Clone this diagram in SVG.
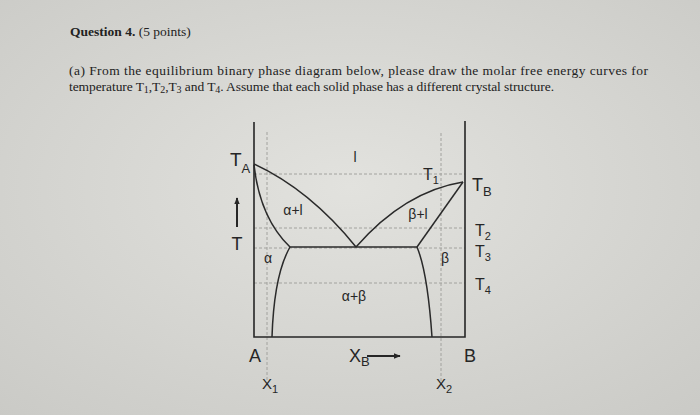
<svg xmlns="http://www.w3.org/2000/svg" width="700" height="415" viewBox="0 0 700 415">
<defs>
<radialGradient id="paper" cx="0.5" cy="0.45" r="0.75">
<stop offset="0" stop-color="#e2e2de"/>
<stop offset="1" stop-color="#cacac6"/>
</radialGradient>
<marker id="arr" viewBox="0 0 10 10" refX="9" refY="5" markerWidth="7" markerHeight="7" orient="auto" markerUnits="userSpaceOnUse">
<path d="M0,1 L10,5 L0,9 Z" fill="#262626"/>
</marker>
</defs>
<style>
.q{font-family:"Liberation Serif","Times New Roman",serif;font-size:13.5px;fill:#222}
.lb{font-family:"Liberation Sans",Arial,sans-serif;fill:#262626}
.ax{stroke:#262626;stroke-width:1.6;fill:none}
.cv{stroke:#2a2a2a;stroke-width:1.5;fill:none}
.ar{stroke:#262626;stroke-width:2;fill:none}
.dash{stroke:#a2a29e;stroke-width:1;stroke-dasharray:3 2;fill:none}
</style>
<rect width="700" height="415" fill="url(#paper)"/>
<g id="question">
<text class="q" x="70" y="36"><tspan font-weight="bold">Question 4.</tspan> (5 points)</text>
<text class="q" x="69" y="75" textLength="579" lengthAdjust="spacing">(a) From the equilibrium binary phase diagram below, please draw the molar free energy curves for</text>
<text class="q" x="69" y="91" textLength="485" lengthAdjust="spacing">temperature T<tspan font-size="10" dy="2">1</tspan><tspan dy="-2">,T</tspan><tspan font-size="10" dy="2">2</tspan><tspan dy="-2">,T</tspan><tspan font-size="10" dy="2">3</tspan><tspan dy="-2"> and T</tspan><tspan font-size="10" dy="2">4</tspan><tspan dy="-2">. Assume that each solid phase has a different crystal structure.</tspan></text>
</g>
<g id="guides">
<line class="dash" x1="254" y1="174" x2="465" y2="174"/>
<line class="dash" x1="254" y1="228" x2="465" y2="228"/>
<line class="dash" x1="254" y1="248" x2="465" y2="248"/>
<line class="dash" x1="254" y1="283" x2="465" y2="283"/>
<line class="dash" x1="267" y1="132" x2="267" y2="384"/>
<line class="dash" x1="441" y1="133" x2="441" y2="384"/>
</g>
<g id="frame">
<path class="ax" d="M254,122 L254,337 L465,337 L465,121"/>
</g>
<g id="connectors">
<path id="liquidus-a" class="cv" d="M254,164 Q310,190 356,247"/>
<path id="liquidus-b" class="cv" d="M463,182 Q404.5,191.5 356,247"/>
<path id="solidus-a" class="cv" d="M254,165 Q260,218 290,247"/>
<path id="solidus-b" class="cv" d="M463,182 L417,247"/>
<line id="eutectic" class="cv" x1="290" y1="247" x2="417" y2="247"/>
<path id="solvus-a" class="cv" d="M290,247 Q274,275 272,337"/>
<path id="solvus-b" class="cv" d="M417,247 Q427.5,272 432,337"/>
<line id="t-arrow" class="ar" x1="237" y1="227" x2="237" y2="198" marker-end="url(#arr)"/>
<line id="xb-arrow" class="ar" x1="367" y1="356" x2="400" y2="356" marker-end="url(#arr)"/>
</g>
<g id="labels">
<text class="lb" x="230" y="166" font-size="19">T<tspan font-size="13" dy="7">A</tspan></text>
<text class="lb" x="237" y="250" font-size="18" text-anchor="middle">T</text>
<text class="lb" x="355" y="162" font-size="14" text-anchor="middle">l</text>
<text class="lb" x="293" y="215" font-size="14" text-anchor="middle">α+l</text>
<text class="lb" x="418" y="219" font-size="14" text-anchor="middle">β+l</text>
<text class="lb" x="268" y="263" font-size="14" text-anchor="middle">α</text>
<text class="lb" x="445" y="263" font-size="14" text-anchor="middle">β</text>
<text class="lb" x="354" y="301" font-size="14" text-anchor="middle">α+β</text>
<text class="lb" x="423" y="180" font-size="16">T<tspan font-size="11" dy="4">1</tspan></text>
<text class="lb" x="472" y="191" font-size="18">T<tspan font-size="13" dy="5">B</tspan></text>
<text class="lb" x="475" y="236" font-size="16">T<tspan font-size="11" dy="4">2</tspan></text>
<text class="lb" x="475" y="257" font-size="16">T<tspan font-size="11" dy="4">3</tspan></text>
<text class="lb" x="475" y="290" font-size="16">T<tspan font-size="11" dy="4">4</tspan></text>
<text class="lb" x="255" y="362" font-size="18" text-anchor="middle">A</text>
<text class="lb" x="349" y="362" font-size="18">X<tspan font-size="13" dy="4">B</tspan></text>
<text class="lb" x="470" y="362" font-size="18" text-anchor="middle">B</text>
<text class="lb" x="262" y="389" font-size="15">X<tspan font-size="11" dy="4">1</tspan></text>
<text class="lb" x="436" y="389" font-size="15">X<tspan font-size="11" dy="4">2</tspan></text>
</g>
</svg>
